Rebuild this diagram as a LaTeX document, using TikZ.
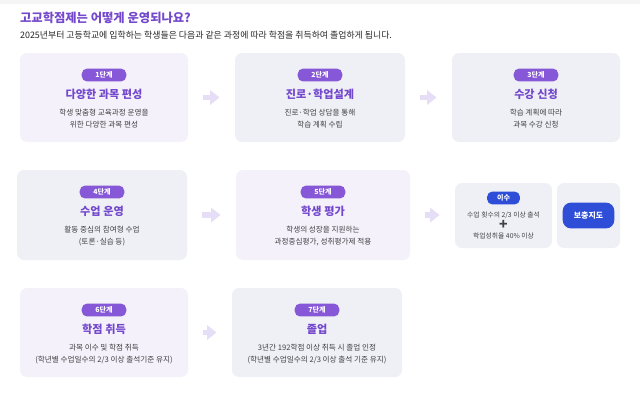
\documentclass[tikz,border=0pt]{standalone}
\usepackage{fontspec}
\setmainfont{Noto Sans CJK KR}
\usetikzlibrary{arrows.meta}
\usetikzlibrary{positioning}

\definecolor{lav}{HTML}{F4F1FB}
\definecolor{gry}{HTML}{EEF0F6}
\definecolor{purp}{HTML}{8657D6}
\definecolor{ttl}{HTML}{7448CC}
\definecolor{blu}{HTML}{2E4ED8}
\definecolor{arr}{HTML}{E6DDF6}

\tikzset{
    badge/.style={fill=purp, text=white, rounded corners=4.5pt, font=\fontsize{6}{7}\selectfont\bfseries,
        minimum width=38pt, minimum height=11pt, inner sep=1pt},
    head/.style={text=ttl, font=\fontsize{9.5}{10}\selectfont\bfseries},
    desc/.style={text=black!75, font=\fontsize{6.5}{10}\selectfont, align=center},
    flow/.style={draw=arr, line width=5pt, -{Triangle[length=8pt,width=12pt]}, shorten >=13pt, shorten <=13pt}
}

% box: name, x1, y1, x2, y2, colour
\newcommand{\stepcard}[6]{
    \fill[#6, rounded corners=6pt] (#2,#3) rectangle (#4,#5);
    \path (#2,#3) rectangle (#4,#5) coordinate[midway] (#1c);
    \node[minimum width={(#4-#2)*0.3mm}, minimum height={(#5-#3)*0.3mm}, inner sep=0pt] (#1) at (#1c) {};
}

\begin{document}
\begin{tikzpicture}[x=0.3mm, y=-0.3mm]
    \useasboundingbox[fill=white] (0,0) rectangle (640,403);
    \fill[black!4] (0,0) rectangle (640,4);

    % title
    \node[anchor=west, text=ttl, font=\fontsize{10.5}{11}\selectfont\bfseries] (title) at (16,18) {고교학점제는 어떻게 운영되나요?};
    \node[anchor=west, font=\fontsize{7.6}{9}\selectfont, text=black!85] (sub) at (16,35)
        {2025년부터 고등학교에 입학하는 학생들은 다음과 같은 과정에 따라 학점을 취득하여 졸업하게 됩니다.};

    % cards
    \stepcard{b1}{20}{53}{188}{142}{lav}
    \stepcard{b2}{235}{53}{405}{142}{gry}
    \stepcard{b3}{452}{53}{620}{142}{gry}
    \stepcard{b4}{17}{170}{187}{260}{gry}
    \stepcard{b5}{236}{170}{410}{260}{lav}
    \stepcard{b6}{20}{288}{188}{377}{lav}
    \stepcard{b7}{232}{288}{402}{377}{gry}
    \stepcard{is}{455}{183}{552}{248}{gry}
    \stepcard{bc}{557}{183}{620}{248}{gry}

    % contents
    \foreach \n/\s/\h/\a/\b in {
        b1/1단계/다양한 과목 편성/학생 맞춤형 교육과정 운영을/위한 다양한 과목 편성,
        b2/2단계/진로·학업설계/진로·학업 상담을 통해/학습 계획 수립,
        b3/3단계/수강 신청/학습 계획에 따라/과목 수강 신청,
        b4/4단계/수업 운영/활동 중심의 참여형 수업/(토론·실습 등),
        b5/5단계/학생 평가/학생의 성장을 지원하는/{과정중심평가, 성취평가제 적용},
        b6/6단계/학점 취득/과목 이수 및 학점 취득/{(학년별 수업일수의 2/3 이상 출석기준 유지)},
        b7/7단계/졸업/{3년간 192학점 이상 취득 시 졸업 인정}/{(학년별 수업일수의 2/3 이상 출석 기준 유지)}} {
        \node[badge, below=19pt of \n.north, anchor=center] (\n k) {\s};
        \node[head, below=3pt of \n k] (\n h) {\h};
        \node[desc, below=1pt of \n h] (\n d) {\a\\\b};
    }

    % completion box
    \node[badge, fill=blu, minimum width=28pt, below=13pt of is.north, anchor=center] (isk) {이수};
    \node[desc, font=\fontsize{5.8}{7.5}\selectfont, below=3pt of isk] (isd)
        {수업 횟수의 2/3 이상 출석\\{\bfseries\large +}\\학업성취율 40\% 이상};
    \node[fill=blu, text=white, rounded corners=7pt, minimum width=44pt, minimum height=22pt,
        font=\fontsize{6.8}{7}\selectfont\bfseries] (bck) at (bc) {보충지도};

    % flows
    \draw[flow] (b1) -- (b2);
    \draw[flow] (b2) -- (b3);
    \draw[flow] (b4) -- (b5);
    \draw[flow] (b5.east) -- (is.west |- b5.east);
    \draw[flow] (b6) -- (b7);

\end{tikzpicture}
\end{document}
